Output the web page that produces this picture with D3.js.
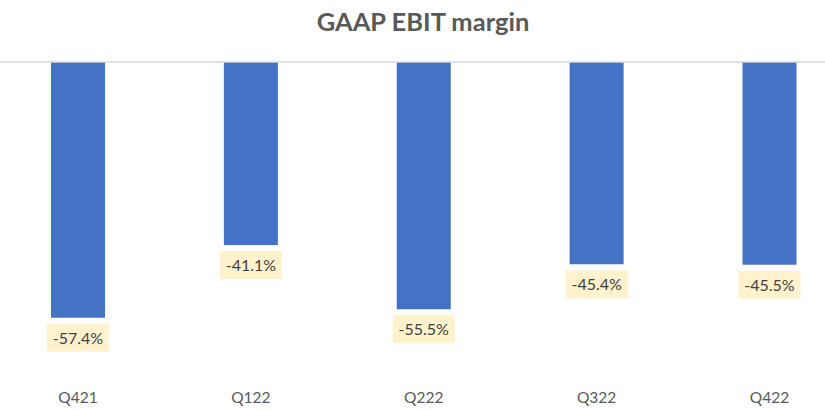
<!DOCTYPE html>
<html><head><meta charset="utf-8">
<script src="https://cdn.jsdelivr.net/npm/d3@7"></script>
<style>body{margin:0;background:#fff}svg{display:block}</style>
</head><body>
<script>
const categories = ["Q421","Q122","Q222","Q322","Q422"];
const values = [-57.4,-41.1,-55.5,-45.4,-45.5];
const labels = ["-57.4%","-41.1%","-55.5%","-45.4%","-45.5%"];
const title = "GAAP EBIT margin";

const W = 825, H = 410;
const svg = d3.select("body").append("svg").attr("width", W).attr("height", H);

const x = d3.scalePoint().domain(categories).range([78, 769.5]);
const y = d3.scaleLinear().domain([0, -60]).range([62, 329.3]);
const bw = 54;

svg.append("text").attr("x", 423).attr("y", 31).attr("text-anchor", "middle")
  .attr("font-family", "Lato, 'Open Sans', sans-serif").attr("font-weight", "bold")
  .attr("font-size", 25.5).attr("fill", "#595959").text(title);

svg.selectAll("rect.bar").data(values).join("rect").attr("class", "bar")
  .attr("x", (d, i) => x(categories[i]) - bw / 2)
  .attr("y", y(0))
  .attr("width", bw)
  .attr("height", d => y(d) - y(0))
  .attr("fill", "#4472C4");

svg.append("line").attr("x1", 0).attr("x2", W).attr("y1", y(0)).attr("y2", y(0))
  .attr("stroke", "#d9d9d9").attr("stroke-width", 1.5);

const lg = svg.selectAll("g.lab").data(values).join("g").attr("class", "lab")
  .attr("transform", (d, i) => `translate(${x(categories[i])},${y(d) + 6})`);
lg.append("rect").attr("x", -31).attr("y", 0).attr("width", 62).attr("height", 28).attr("fill", "#FFF2CC");
lg.append("text").attr("x", 0).attr("y", 20).attr("text-anchor", "middle")
  .attr("font-family", "Lato, 'Open Sans', sans-serif").attr("font-size", 16)
  .attr("fill", "#404040").text((d, i) => labels[i]);

svg.selectAll("text.cat").data(categories).join("text").attr("class", "cat")
  .attr("x", d => x(d)).attr("y", 403).attr("text-anchor", "middle")
  .attr("font-family", "Lato, 'Open Sans', sans-serif").attr("font-size", 15.5)
  .attr("fill", "#595959").text(d => d);
</script>
</body></html>
